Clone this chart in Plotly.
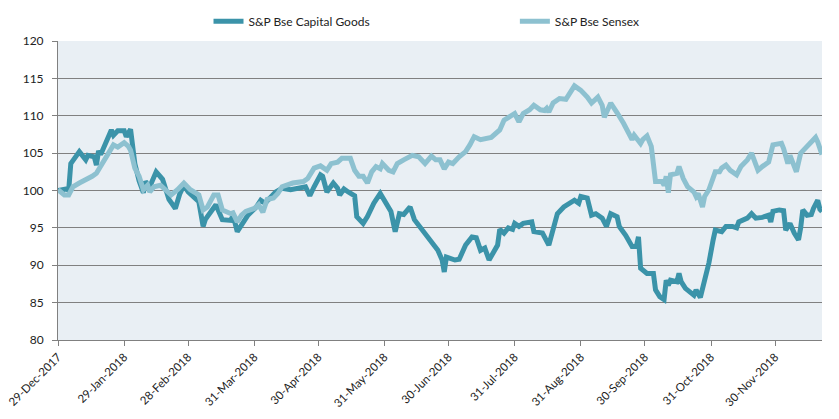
import plotly.graph_objects as go

# ---- data ----
cg_dates = [
    "2017-12-29", "2018-01-02", "2018-01-03", "2018-01-04", "2018-01-08", "2018-01-11", "2018-01-12",
    "2018-01-15", "2018-01-16", "2018-01-17", "2018-01-18", "2018-01-23", "2018-01-24", "2018-01-26",
    "2018-01-29", "2018-01-30", "2018-02-01", "2018-02-02", "2018-02-03", "2018-02-05", "2018-02-07",
    "2018-02-08", "2018-02-10", "2018-02-13", "2018-02-16", "2018-02-19", "2018-02-22", "2018-02-24",
    "2018-02-26", "2018-02-28", "2018-03-02", "2018-03-05", "2018-03-07", "2018-03-08", "2018-03-13",
    "2018-03-16", "2018-03-20", "2018-03-21", "2018-03-23", "2018-03-25", "2018-03-28", "2018-04-01",
    "2018-04-03", "2018-04-05", "2018-04-10", "2018-04-13", "2018-04-17", "2018-04-24", "2018-04-26",
    "2018-04-28", "2018-05-01", "2018-05-02", "2018-05-04", "2018-05-07", "2018-05-09", "2018-05-10",
    "2018-05-12", "2018-05-14", "2018-05-17", "2018-05-18", "2018-05-21", "2018-05-23", "2018-05-26",
    "2018-05-29", "2018-05-31", "2018-06-03", "2018-06-05", "2018-06-07", "2018-06-09", "2018-06-12",
    "2018-06-14", "2018-06-17", "2018-06-20", "2018-06-22", "2018-06-25", "2018-06-27", "2018-06-28",
    "2018-06-29", "2018-07-03", "2018-07-05", "2018-07-08", "2018-07-11", "2018-07-13", "2018-07-15",
    "2018-07-17", "2018-07-19", "2018-07-21", "2018-07-23", "2018-07-24", "2018-07-26", "2018-07-28",
    "2018-07-30", "2018-07-31", "2018-08-02", "2018-08-04", "2018-08-08", "2018-08-09", "2018-08-13",
    "2018-08-16", "2018-08-18", "2018-08-20", "2018-08-23", "2018-08-25", "2018-08-28", "2018-08-30",
    "2018-08-31", "2018-09-03", "2018-09-05", "2018-09-07", "2018-09-10", "2018-09-12", "2018-09-14",
    "2018-09-17", "2018-09-18", "2018-09-21", "2018-09-24", "2018-09-26", "2018-09-27", "2018-09-28",
    "2018-10-01", "2018-10-04", "2018-10-05", "2018-10-07", "2018-10-09", "2018-10-10", "2018-10-11",
    "2018-10-12", "2018-10-15", "2018-10-16", "2018-10-17", "2018-10-19", "2018-10-23", "2018-10-24",
    "2018-10-26", "2018-10-28", "2018-10-30", "2018-11-01", "2018-11-02", "2018-11-05", "2018-11-07",
    "2018-11-10", "2018-11-12", "2018-11-13", "2018-11-17", "2018-11-19", "2018-11-21", "2018-11-24",
    "2018-11-27", "2018-11-28", "2018-11-29", "2018-12-02", "2018-12-04", "2018-12-05", "2018-12-07",
    "2018-12-09", "2018-12-11", "2018-12-12", "2018-12-13", "2018-12-15", "2018-12-17", "2018-12-18",
    "2018-12-20", "2018-12-21", "2018-12-22",
]
cg_values = [
    100.0, 100.2, 100.0, 103.6, 105.2, 104.1, 104.7,
    104.5, 103.4, 105.3, 104.8, 108.1, 107.4, 108.0,
    108.0, 107.2, 108.2, 105.9, 103.6, 101.3, 99.7,
    101.2, 100.5, 102.5, 101.5, 98.8, 97.6, 99.5,
    100.7, 99.8, 99.2, 98.5, 95.2, 96.1, 98.1,
    96.1, 96.0, 96.7, 94.5, 95.5, 96.7, 97.8,
    98.7, 98.3, 99.8, 100.3, 100.1, 100.5, 99.3,
    100.5, 102.1, 101.9, 99.8, 101.0, 100.3, 99.4,
    100.2, 99.8, 99.3, 96.5, 95.6, 96.5, 98.3,
    99.6, 98.5, 97.2, 94.5, 96.9, 96.8, 97.8,
    96.1, 95.0, 93.8, 92.9, 92.0, 90.7, 89.1,
    91.1, 90.7, 90.8, 92.7, 93.8, 93.7, 92.0,
    92.3, 90.7, 91.6, 92.7, 94.8, 94.3, 95.0,
    94.8, 95.6, 95.2, 95.6, 95.8, 94.5, 94.3,
    92.7, 94.7, 96.9, 97.8, 98.1, 98.7, 98.3,
    99.2, 99.0, 96.7, 96.9, 96.3, 95.2, 96.9,
    96.5, 95.2, 94.0, 92.5, 92.5, 93.8, 89.6,
    88.9, 88.9, 86.7, 85.8, 85.4, 88.0, 87.3,
    88.0, 87.8, 88.9, 87.8, 86.9, 86.0, 86.7,
    85.7, 88.0, 90.3, 93.4, 94.7, 94.5, 95.2,
    95.2, 95.0, 95.8, 96.3, 96.9, 96.3, 96.4,
    96.7, 95.8, 97.2, 97.4, 97.3, 94.7, 95.6,
    94.3, 93.4, 95.0, 97.4, 96.7, 96.8, 97.6,
    98.7, 97.5, 97.2,
]

sx_dates = [
    "2017-12-29", "2018-01-01", "2018-01-03", "2018-01-05", "2018-01-08", "2018-01-11", "2018-01-14",
    "2018-01-16", "2018-01-18", "2018-01-20", "2018-01-24", "2018-01-26", "2018-01-29", "2018-01-31",
    "2018-02-01", "2018-02-03", "2018-02-05", "2018-02-07", "2018-02-09", "2018-02-10", "2018-02-12",
    "2018-02-15", "2018-02-17", "2018-02-20", "2018-02-23", "2018-02-26", "2018-03-01", "2018-03-05",
    "2018-03-07", "2018-03-09", "2018-03-12", "2018-03-14", "2018-03-16", "2018-03-20", "2018-03-21",
    "2018-03-23", "2018-03-25", "2018-03-27", "2018-03-31", "2018-04-02", "2018-04-04", "2018-04-06",
    "2018-04-09", "2018-04-11", "2018-04-13", "2018-04-18", "2018-04-23", "2018-04-25", "2018-04-28",
    "2018-05-01", "2018-05-04", "2018-05-06", "2018-05-09", "2018-05-11", "2018-05-15", "2018-05-17",
    "2018-05-19", "2018-05-21", "2018-05-23", "2018-05-25", "2018-05-27", "2018-05-29", "2018-05-30",
    "2018-06-02", "2018-06-04", "2018-06-06", "2018-06-09", "2018-06-13", "2018-06-16", "2018-06-19",
    "2018-06-22", "2018-06-24", "2018-06-26", "2018-06-28", "2018-06-30", "2018-07-02", "2018-07-05",
    "2018-07-08", "2018-07-10", "2018-07-12", "2018-07-15", "2018-07-18", "2018-07-20", "2018-07-24",
    "2018-07-26", "2018-07-31", "2018-08-02", "2018-08-04", "2018-08-07", "2018-08-09", "2018-08-12",
    "2018-08-14", "2018-08-15", "2018-08-16", "2018-08-18", "2018-08-21", "2018-08-24", "2018-08-28",
    "2018-08-31", "2018-09-03", "2018-09-05", "2018-09-08", "2018-09-10", "2018-09-11", "2018-09-14",
    "2018-09-17", "2018-09-20", "2018-09-24", "2018-09-25", "2018-09-28", "2018-09-29", "2018-10-01",
    "2018-10-03", "2018-10-05", "2018-10-08", "2018-10-09", "2018-10-10", "2018-10-11", "2018-10-12",
    "2018-10-15", "2018-10-16", "2018-10-18", "2018-10-20", "2018-10-23", "2018-10-24", "2018-10-25",
    "2018-10-27", "2018-10-28", "2018-10-30", "2018-11-02", "2018-11-04", "2018-11-05", "2018-11-07",
    "2018-11-09", "2018-11-12", "2018-11-14", "2018-11-17", "2018-11-19", "2018-11-22", "2018-11-24",
    "2018-11-27", "2018-11-29", "2018-12-03", "2018-12-04", "2018-12-06", "2018-12-07", "2018-12-09",
    "2018-12-10", "2018-12-12", "2018-12-15", "2018-12-19", "2018-12-20", "2018-12-22",
]
sx_values = [
    100.1, 99.4, 99.4, 100.5, 101.0, 101.4, 101.9,
    102.3, 103.2, 104.3, 106.1, 105.8, 106.4, 105.9,
    105.4, 103.0, 101.9, 100.1, 100.7, 99.8, 100.5,
    100.7, 100.1, 99.4, 100.1, 101.0, 100.1, 99.4,
    97.4, 97.8, 99.4, 99.4, 97.4, 96.9, 97.0,
    95.8, 96.7, 97.2, 97.6, 98.1, 97.1, 98.8,
    99.0, 99.6, 100.5, 101.0, 101.2, 101.6, 103.0,
    103.3, 102.7, 103.6, 103.8, 104.3, 104.3, 102.7,
    101.9, 101.9, 101.0, 102.5, 103.2, 102.9, 103.6,
    102.7, 102.5, 103.6, 104.1, 104.7, 104.5, 103.6,
    104.6, 104.1, 104.1, 102.9, 103.8, 103.6, 104.5,
    105.2, 106.1, 107.2, 106.8, 107.0, 107.1, 108.1,
    109.4, 110.3, 109.2, 110.3, 110.8, 111.4, 110.8,
    110.7, 111.0, 110.5, 111.7, 112.3, 112.2, 114.0,
    113.4, 112.5, 111.7, 112.5, 111.4, 109.8, 111.7,
    110.4, 109.0, 106.8, 107.4, 106.3, 106.8, 107.3,
    105.9, 101.2, 101.2, 100.7, 101.9, 99.7, 102.1,
    102.3, 103.2, 101.6, 100.5, 99.8, 99.2, 99.6,
    97.8, 99.2, 100.1, 102.5, 102.5, 103.0, 103.4,
    102.7, 102.1, 103.2, 104.1, 105.0, 102.7, 103.2,
    103.8, 106.1, 106.3, 105.6, 103.6, 104.7, 103.4,
    102.5, 105.0, 105.9, 107.1, 106.5, 104.8,
]

tick_dates = ["2017-12-29", "2018-01-29", "2018-02-28", "2018-03-31", "2018-04-30", "2018-05-31",
              "2018-06-30", "2018-07-31", "2018-08-31", "2018-09-30", "2018-10-31", "2018-11-30"]
tick_labels = ["29-Dec-2017", "29-Jan-2018", "28-Feb-2018", "31-Mar-2018", "30-Apr-2018", "31-May-2018",
               "30-Jun-2018", "31-Jul-2018", "31-Aug-2018", "30-Sep-2018", "31-Oct-2018", "30-Nov-2018"]
y_ticks = [80, 85, 90, 95, 100, 105, 110, 115, 120]

FONT = "Lato, 'Open Sans', sans-serif"

fig = go.Figure()
fig.add_trace(go.Scatter(x=cg_dates, y=cg_values, mode="lines", name="S&amp;P Bse Capital Goods",
                         line=dict(color="#3B93A9", width=5), legend="legend"))
fig.add_trace(go.Scatter(x=sx_dates, y=sx_values, mode="lines", name="S&amp;P Bse Sensex",
                         line=dict(color="#8DC1D0", width=5), legend="legend2"))

leg_common = dict(orientation="h", yanchor="middle", y=1.066, xanchor="left",
                  itemwidth=30, font=dict(size=12, family=FONT, color="#222222"),
                  bgcolor="rgba(0,0,0,0)", borderwidth=0)

fig.update_layout(
    width=839, height=419,
    margin=dict(l=58, r=17, t=41, b=79, autoexpand=False),
    paper_bgcolor="white",
    plot_bgcolor="#E9EFF4",
    font=dict(family=FONT, size=11.5, color="#222222"),
    showlegend=True,
    legend=dict(x=0.197, **leg_common),
    legend2=dict(x=0.598, **leg_common),
    xaxis=dict(type="date", range=["2017-12-29", "2018-12-22"],
               tickmode="array", tickvals=tick_dates, ticktext=tick_labels,
               tickangle=-45, ticks="outside", ticklen=5, tickcolor="#808080",
               showline=True, linecolor="#808080", linewidth=1, automargin=False,
               showgrid=False, zeroline=False, tickfont=dict(size=11.5)),
    yaxis=dict(range=[80, 120], tickmode="array", tickvals=y_ticks,
               ticks="outside", ticklen=5, tickcolor="#808080", ticklabelstandoff=6,
               showline=True, linecolor="#808080", linewidth=1, automargin=False,
               showgrid=True, gridcolor="#808080", gridwidth=1,
               zeroline=False, tickfont=dict(size=12)),
)

fig.write_html("out.html")
